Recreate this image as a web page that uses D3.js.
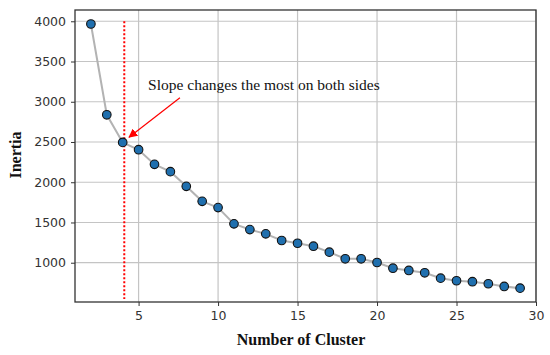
<!DOCTYPE html>
<html>
<head>
<meta charset="utf-8">
<script src="https://cdn.jsdelivr.net/npm/d3@7"></script>
<style>
  body { margin: 0; background: #fff; }
  svg { display: block; }
  .tick text { font-family: "DejaVu Sans", sans-serif; font-size: 12.5px; fill: #333; }
</style>
</head>
<body>
<div id="chart"></div>
<script>
// Elbow curve: inertia per number of clusters
const clusters = [2, 3, 4, 5, 6, 7, 8, 9, 10, 11, 12, 13, 14, 15, 16, 17, 18, 19, 20, 21, 22, 23, 24, 25, 26, 27, 28, 29]
const inertia = [3966, 2838, 2495, 2404, 2222, 2131, 1949, 1763, 1685, 1483, 1412, 1359, 1276, 1242, 1205, 1131, 1049, 1049, 1003, 932, 904, 875, 808, 776, 764, 739, 705, 684]
const xTicks = [5, 10, 15, 20, 25, 30]
const yTicks = [1000, 1500, 2000, 2500, 3000, 3500, 4000]
const elbowX = 4.1
const elbowRange = [4000, 550]
const note = 'Slope changes the most on both sides'

const width = 550, height = 355
const margin = { top: 10, right: 14, bottom: 53, left: 75 }
const innerW = width - margin.left - margin.right
const innerH = height - margin.top - margin.bottom

const svg = d3.select('#chart').append('svg')
  .attr('width', width)
  .attr('height', height)

const g = svg.append('g').attr('transform', `translate(${margin.left},${margin.top})`)

const x = d3.scaleLinear().domain([1, 30]).range([0, innerW])
const y = d3.scaleLinear().domain([512, 4140]).range([innerH, 0])

// Grid
g.append('g')
  .selectAll('line').data(xTicks).join('line')
  .attr('x1', d => x(d)).attr('x2', d => x(d))
  .attr('y1', 0).attr('y2', innerH)
  .attr('stroke', '#c4c4c4').attr('stroke-width', 1.2)

g.append('g')
  .selectAll('line').data(yTicks).join('line')
  .attr('x1', 0).attr('x2', innerW)
  .attr('y1', d => y(d)).attr('y2', d => y(d))
  .attr('stroke', '#c4c4c4').attr('stroke-width', 1.2)

// Axes
g.append('g')
  .attr('transform', `translate(0,${innerH})`)
  .call(d3.axisBottom(x).tickValues(xTicks).tickFormat(d3.format('d')).tickSize(4).tickPadding(5).tickSizeOuter(0))
  .call(a => a.select('.domain').remove())
  .call(a => a.selectAll('.tick line').attr('stroke', '#333'))

g.append('g')
  .call(d3.axisLeft(y).tickValues(yTicks).tickFormat(d3.format('d')).tickSize(4).tickPadding(5).tickSizeOuter(0))
  .call(a => a.select('.domain').remove())
  .call(a => a.selectAll('.tick line').attr('stroke', '#333'))

// Frame
g.append('rect')
  .attr('width', innerW).attr('height', innerH)
  .attr('fill', 'none').attr('stroke', '#333').attr('stroke-width', 1.3)

// Elbow marker
g.append('line')
  .attr('x1', x(elbowX)).attr('x2', x(elbowX))
  .attr('y1', y(elbowRange[0])).attr('y2', y(elbowRange[1]))
  .attr('stroke', '#ff0000').attr('stroke-width', 2)
  .attr('stroke-dasharray', '2,2')

// Curve
const data = clusters.map((k, i) => ({ k, v: inertia[i] }))
const line = d3.line().x(d => x(d.k)).y(d => y(d.v))

g.append('path')
  .datum(data)
  .attr('fill', 'none')
  .attr('stroke', '#b3b3b3')
  .attr('stroke-width', 2)
  .attr('d', line)

g.selectAll('circle.pt')
  .data(data)
  .join('circle')
  .attr('class', 'pt')
  .attr('cx', d => x(d.k))
  .attr('cy', d => y(d.v))
  .attr('r', 4.3)
  .attr('fill', '#1f6fae')
  .attr('stroke', '#111')
  .attr('stroke-width', 1.1)

// Annotation
svg.append('defs').append('marker')
  .attr('id', 'arrow')
  .attr('viewBox', '0 0 10 10')
  .attr('refX', 9).attr('refY', 5)
  .attr('markerWidth', 9).attr('markerHeight', 9)
  .attr('markerUnits', 'userSpaceOnUse')
  .attr('orient', 'auto')
  .append('path')
  .attr('d', 'M0,0 L10,5 L0,10 z')
  .attr('fill', '#ff0000')

g.append('line')
  .attr('x1', x(7.6)).attr('y1', y(3050))
  .attr('x2', x(4.4)).attr('y2', y(2560))
  .attr('stroke', '#ff0000').attr('stroke-width', 1.2)
  .attr('marker-end', 'url(#arrow)')

g.append('text')
  .attr('x', x(5.6)).attr('y', y(3140))
  .attr('font-family', '"Liberation Serif", "Times New Roman", serif')
  .attr('font-size', '15.5px')
  .attr('fill', '#111')
  .text(note)

// Axis titles
svg.append('text')
  .attr('transform', 'rotate(-90)')
  .attr('x', -155).attr('y', 21)
  .attr('text-anchor', 'middle')
  .attr('font-family', '"Liberation Serif", "Times New Roman", serif')
  .attr('font-weight', 'bold')
  .attr('font-size', '16px')
  .attr('fill', '#111')
  .text('Inertia')

svg.append('text')
  .attr('x', 301).attr('y', 345)
  .attr('text-anchor', 'middle')
  .attr('font-family', '"Liberation Serif", "Times New Roman", serif')
  .attr('font-weight', 'bold')
  .attr('font-size', '16px')
  .attr('fill', '#111')
  .text('Number of Cluster')
</script>
</body>
</html>
